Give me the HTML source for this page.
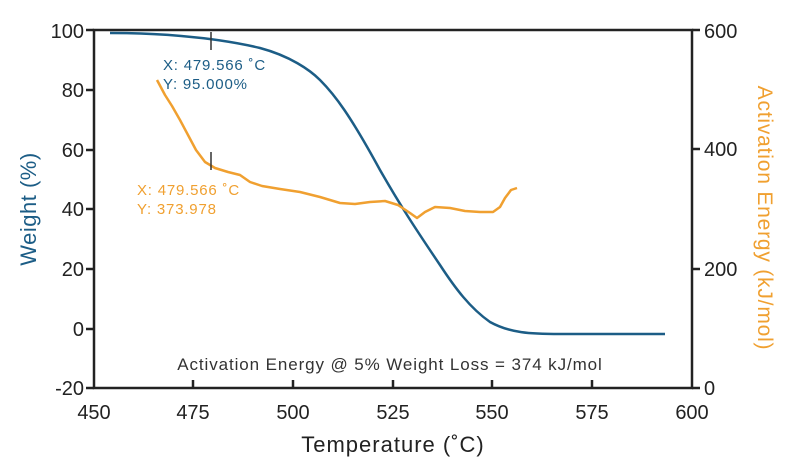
<!DOCTYPE html><html><head><style>body{margin:0;background:#fff}svg{display:block;font-family:"Liberation Sans",sans-serif}</style></head><body>
<svg width="794" height="473" viewBox="0 0 794 473">
<g stroke="#222" stroke-width="2.5" fill="none">
<path d="M94 30H692V388H94Z"/>
<path d="M86 30H94M86 90H94M86 150H94M86 209H94M86 269H94M86 329H94M86 388H94"/>
<path d="M692 30H700M692 149H700M692 269H700M692 388H700"/>
<path d="M193 388V380M293 388V380M393 388V380M492 388V380M592 388V380"/>
</g>
<g font-size="20" fill="#222" text-anchor="end">
<text x="84" y="38">100</text><text x="84" y="97">80</text><text x="84" y="157">60</text><text x="84" y="216">40</text><text x="84" y="276">20</text><text x="84" y="336">0</text><text x="84" y="395">-20</text>
</g>
<g font-size="20" fill="#222">
<text x="704" y="38">600</text><text x="704" y="156">400</text><text x="704" y="276">200</text><text x="704" y="395">0</text>
</g>
<g font-size="20" fill="#222" text-anchor="middle">
<text x="94" y="419">450</text><text x="193" y="419">475</text><text x="293" y="419">500</text><text x="393" y="419">525</text><text x="492" y="419">550</text><text x="592" y="419">575</text><text x="692" y="419">600</text>
<text x="393" y="452" font-size="22" letter-spacing="1">Temperature (˚C)</text>
</g>
<text transform="translate(36 209) rotate(-90)" text-anchor="middle" font-size="22" letter-spacing="0.5" fill="#1c5d86">Weight (%)</text>
<text transform="translate(758 218) rotate(90)" text-anchor="middle" font-size="21" letter-spacing="0.8" fill="#f0a030">Activation Energy (kJ/mol)</text>
<path d="M110 33C150 33 210 36 260 48C290 56 310 70 320 80C335 95 350 115 380 170C400 205 415 228 440 265C455 288 470 308 490 322C510 333 530 334 560 334L665 334" stroke="#1c5d86" stroke-width="2.5" fill="none"/>
<path d="M157 80L165 95L172 106L180 120L188 135L196 150L205 162L215 168L228 172L240 175L250 182L262 186L280 189L300 192L320 197L340 203L355 204L370 202L385 201L398 205L410 213L417 218L425 212L435 207L450 208L465 211L480 212L493 212L500 207L505 198L511 190L517 188" stroke="#f0a030" stroke-width="2.5" fill="none" stroke-linejoin="round"/>
<path d="M211 32V50M211 152V170" stroke="#333" stroke-width="1.5"/>
<g font-size="15" letter-spacing="0.8"><text x="163" y="70" fill="#1c5d86">X: 479.566 ˚C</text><text x="163" y="89" fill="#1c5d86">Y: 95.000%</text>
<text x="137" y="195" fill="#f0a030">X: 479.566 ˚C</text><text x="137" y="214" fill="#f0a030">Y: 373.978</text></g>
<text x="390" y="370" text-anchor="middle" font-size="17" letter-spacing="0.9" fill="#333">Activation Energy @ 5% Weight Loss = 374 kJ/mol</text>
</svg></body></html>
